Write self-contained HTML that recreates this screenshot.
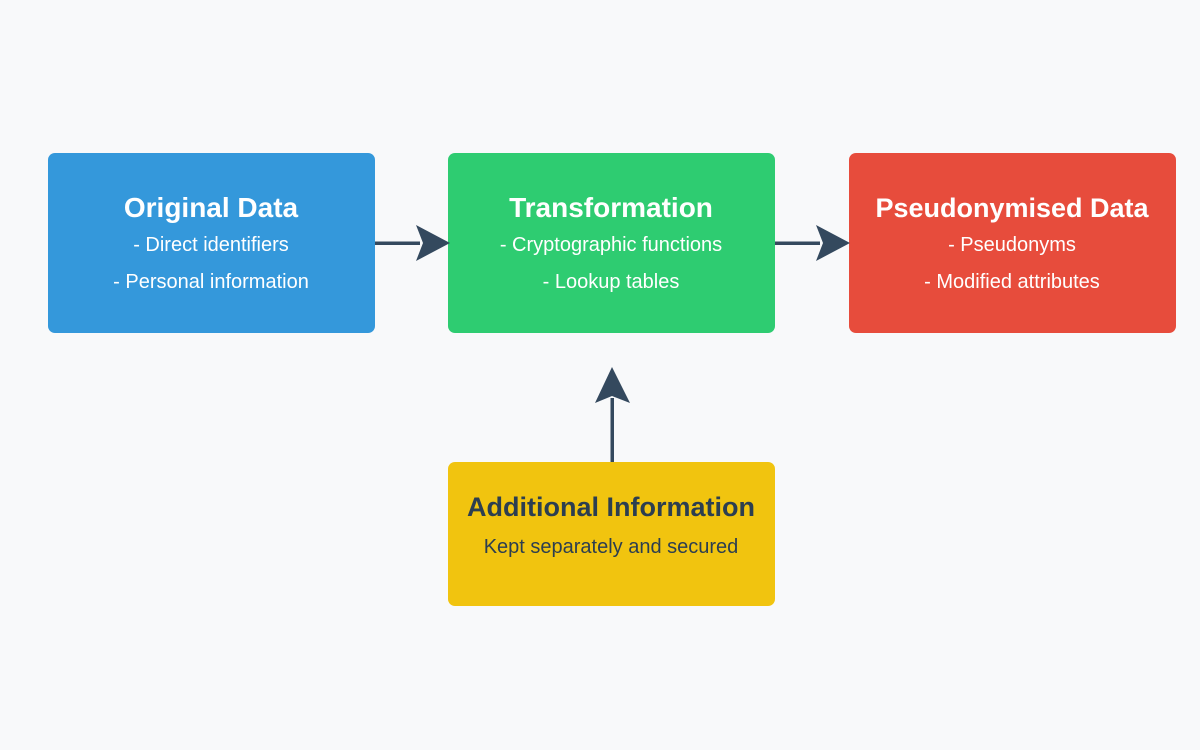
<!DOCTYPE html>
<html>
<head>
<meta charset="utf-8">
<style>
  html,body{margin:0;padding:0;background:#f8f9fa;}
  svg{display:block;}
  text{font-family:"Liberation Sans", Arial, sans-serif;}
</style>
</head>
<body>
<svg width="1200" height="750" viewBox="0 0 1200 750" xmlns="http://www.w3.org/2000/svg">
  <rect x="0" y="0" width="1200" height="750" fill="#f8f9fa"/>

  <!-- Boxes -->
  <rect x="48" y="153" width="327" height="180" rx="7" fill="#3498db"/>
  <rect x="448" y="153" width="327" height="180" rx="7" fill="#2ecc71"/>
  <rect x="849" y="153" width="327" height="180" rx="7" fill="#e74c3c"/>
  <rect x="448" y="462" width="327" height="144" rx="7" fill="#f1c40f"/>

  <!-- Arrows -->
  <g fill="#34495e" stroke="none">
    <rect x="375" y="241.5" width="45" height="3.5"/>
    <polygon points="450,243 416,225 423,243 416,261"/>
    <rect x="775" y="241.5" width="45" height="3.5"/>
    <polygon points="850,243 816,225 823,243 816,261"/>
    <rect x="610.5" y="398" width="3.5" height="64"/>
    <polygon points="612,367 595,403 612,396 630,403"/>
  </g>

  <!-- Text -->
  <g fill="#ffffff" text-anchor="middle">
    <text x="211" y="217" font-size="28" font-weight="bold">Original Data</text>
    <text x="211" y="251" font-size="20">- Direct identifiers</text>
    <text x="211" y="288" font-size="20">- Personal information</text>

    <text x="611" y="217" font-size="28" font-weight="bold">Transformation</text>
    <text x="611" y="251" font-size="20">- Cryptographic functions</text>
    <text x="611" y="288" font-size="20">- Lookup tables</text>

    <text x="1012" y="217" font-size="27" font-weight="bold">Pseudonymised Data</text>
    <text x="1012" y="251" font-size="20">- Pseudonyms</text>
    <text x="1012" y="288" font-size="20">- Modified attributes</text>
  </g>
  <g fill="#2c3e50" text-anchor="middle">
    <text x="611" y="516" font-size="27" font-weight="bold">Additional Information</text>
    <text x="611" y="553" font-size="20">Kept separately and secured</text>
  </g>
</svg>
</body>
</html>
